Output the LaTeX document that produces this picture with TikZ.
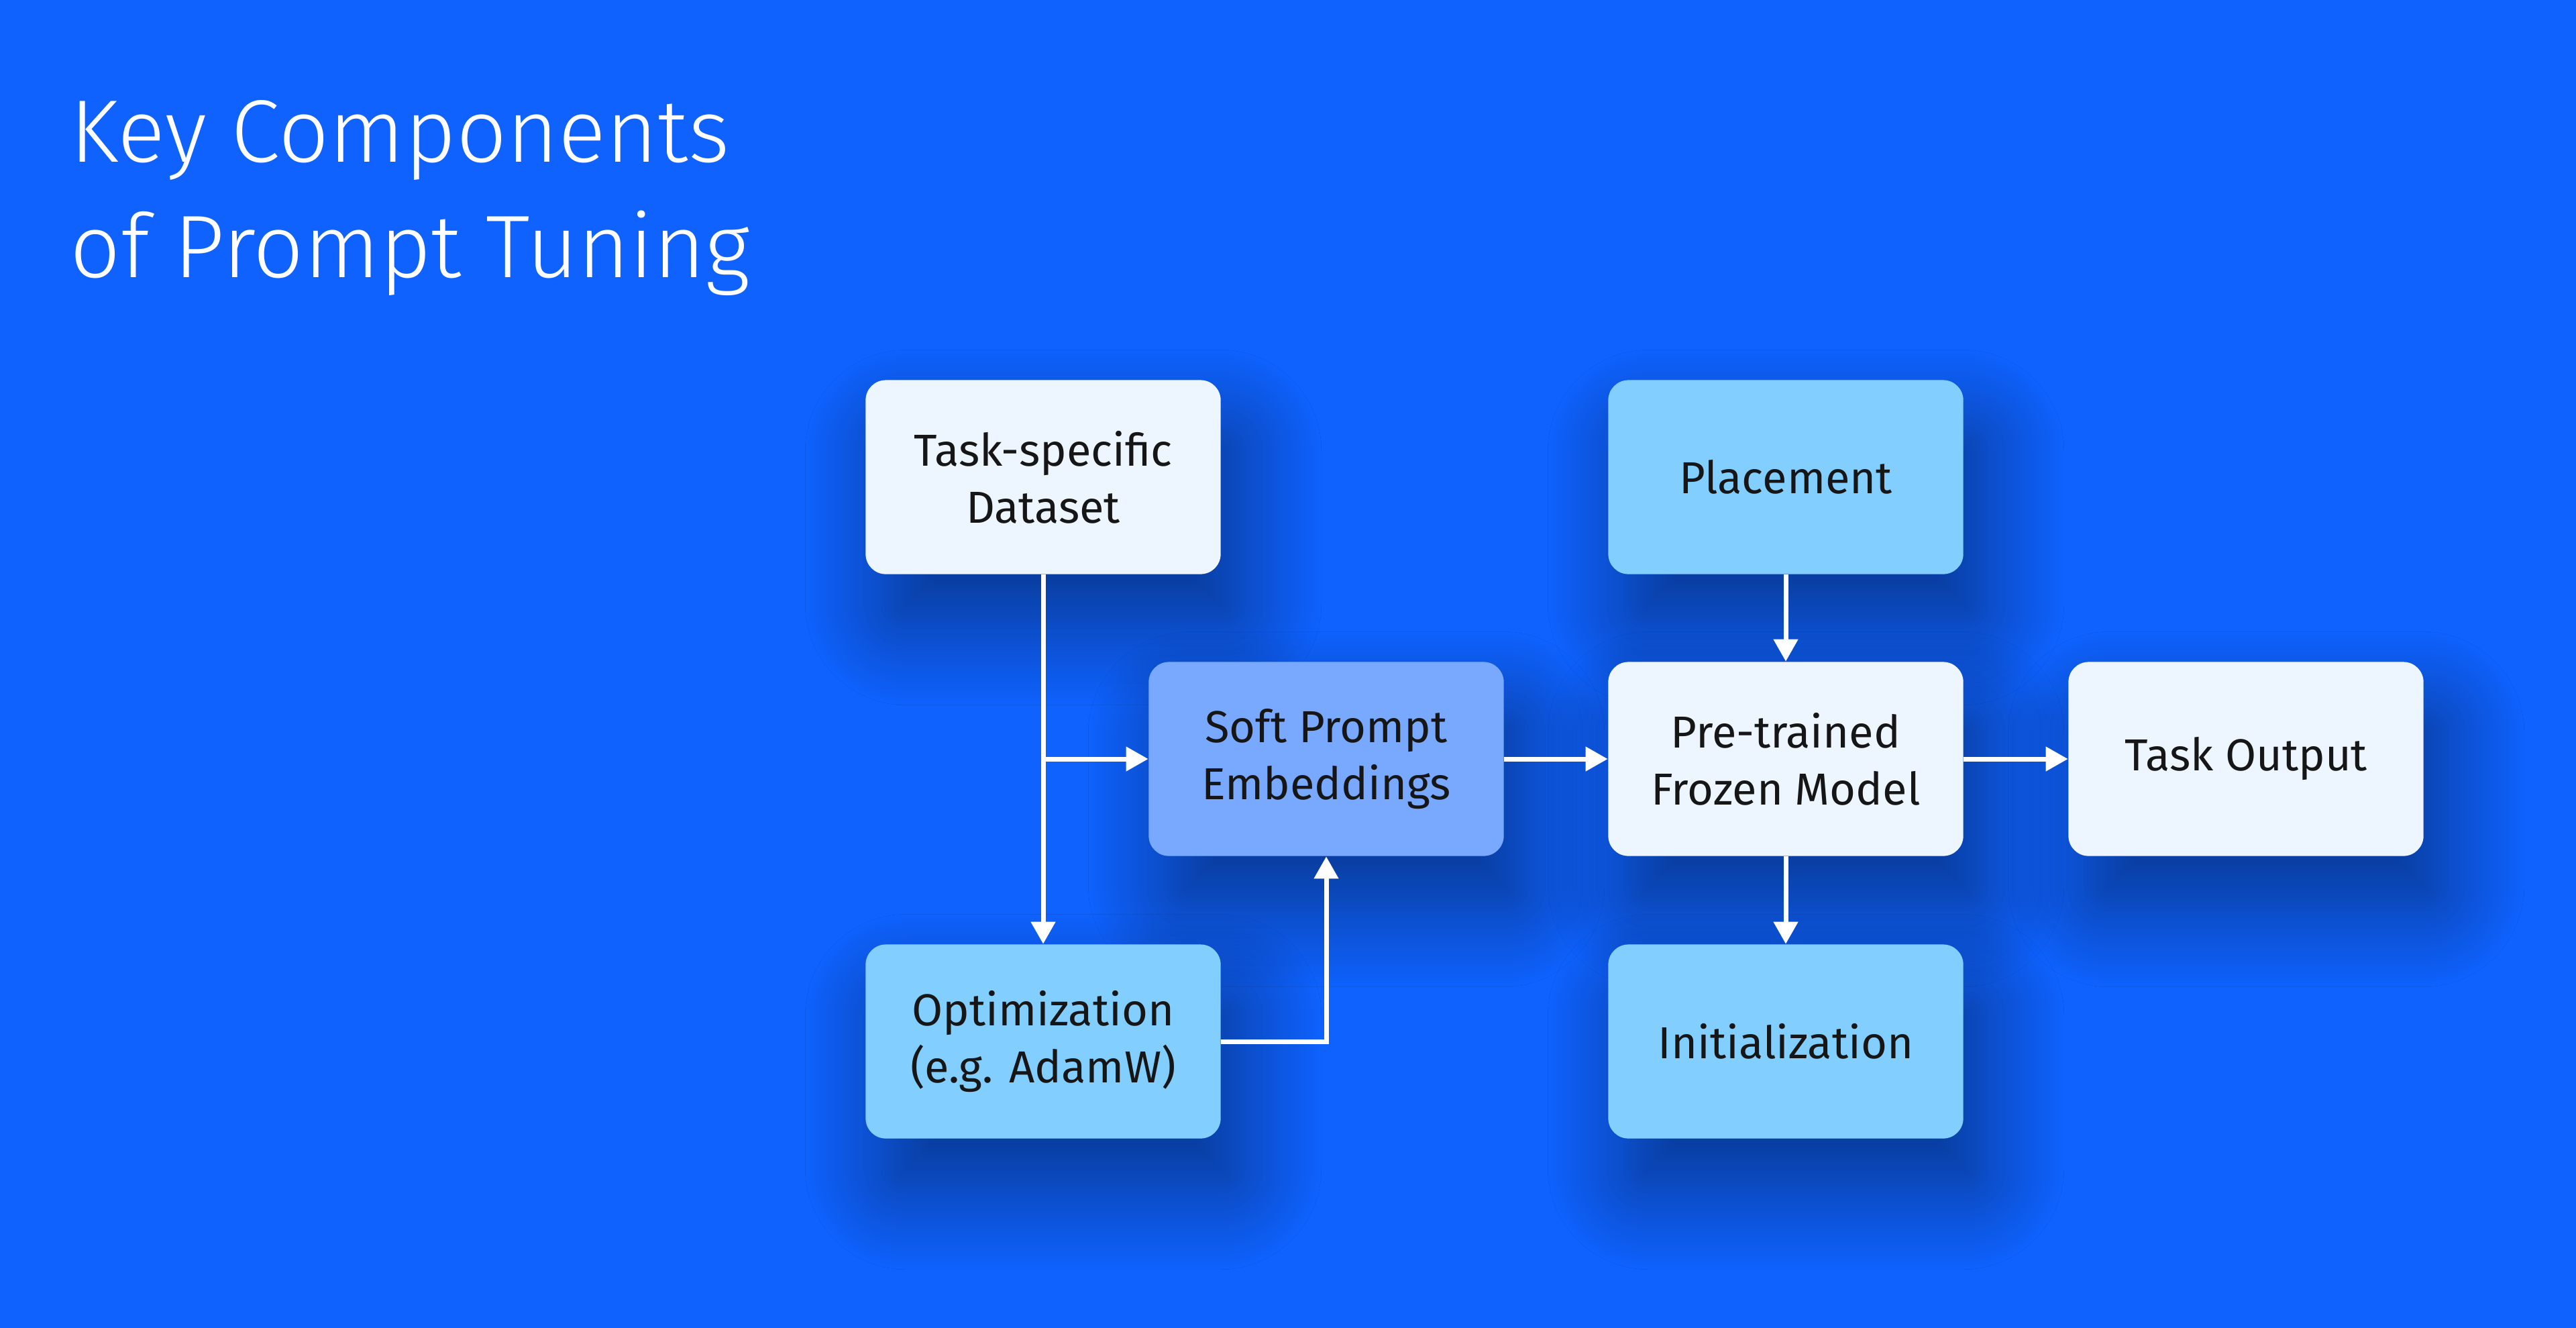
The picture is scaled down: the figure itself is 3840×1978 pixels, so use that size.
\documentclass[tikz,border=0pt]{standalone}
\usepackage{fontspec}
\setmainfont{Fira Sans}
\newfontfamily\titlefont{Fira Sans Light}
\usetikzlibrary{arrows.meta,shadows.blur}
\definecolor{bg}{HTML}{0F62FE}
\definecolor{pale}{HTML}{EDF5FF}
\definecolor{cyanbox}{HTML}{82CFFF}
\definecolor{midblue}{HTML}{78A9FF}
\definecolor{ink}{HTML}{161616}
\tikzset{
  box/.style={rounded corners=0.3cm, minimum width=5.29cm, minimum height=2.89cm,
    align=center, text=ink, inner sep=0pt,
    font=\fontsize{19}{24.2}\selectfont,
    blur shadow={shadow xshift=0.3cm, shadow yshift=-0.75cm,
      shadow blur radius=1.2cm, shadow opacity=45, shadow blur steps=24}},
  conn/.style={draw=white, line width=2pt,
    -{Triangle[length=9.4pt,width=10pt]}},
  titletext/.style={text=white, inner sep=0pt, anchor=base west,
    font=\titlefont\fontsize{37.6}{48.9}\selectfont}
}
\begin{document}
\begin{tikzpicture}[x=0.01cm,y=-0.01cm]
\useasboundingbox (0,0) rectangle (3840,1978);
\fill[bg] (-20,-20) rectangle (3860,2000);

\node[titletext] (t1) at (104,241) {Key Components};
\node[titletext] (t2) at (104,413) {of Prompt Tuning};

\node[box, fill=pale]    (task)  at (1555,711)  {Task-specific\\Dataset};
\node[box, fill=cyanbox] (place) at (2662,711)  {Placement};
\node[box, fill=midblue] (soft)  at (1977,1131) {Soft Prompt\\Embeddings};
\node[box, fill=pale]    (pre)   at (2662,1131) {Pre-trained\\Frozen Model};
\node[box, fill=pale]    (out)   at (3348,1131) {Task Output};
\node[box, fill=cyanbox] (opt)   at (1555,1552) {Optimization\\(e.g. AdamW)};
\node[box, fill=cyanbox] (init)  at (2662,1552) {Initialization};

\coordinate (br) at (task.south |- soft.west);
\draw[conn] (task.south) -- (opt.north);
\draw[conn] (br) -- (soft.west);
\draw[conn] (opt.east) -| (soft.south);
\draw[conn] (soft.east) -- (pre.west);
\draw[conn] (place.south) -- (pre.north);
\draw[conn] (pre.south) -- (init.north);
\draw[conn] (pre.east) -- (out.west);
\end{tikzpicture}
\end{document}
